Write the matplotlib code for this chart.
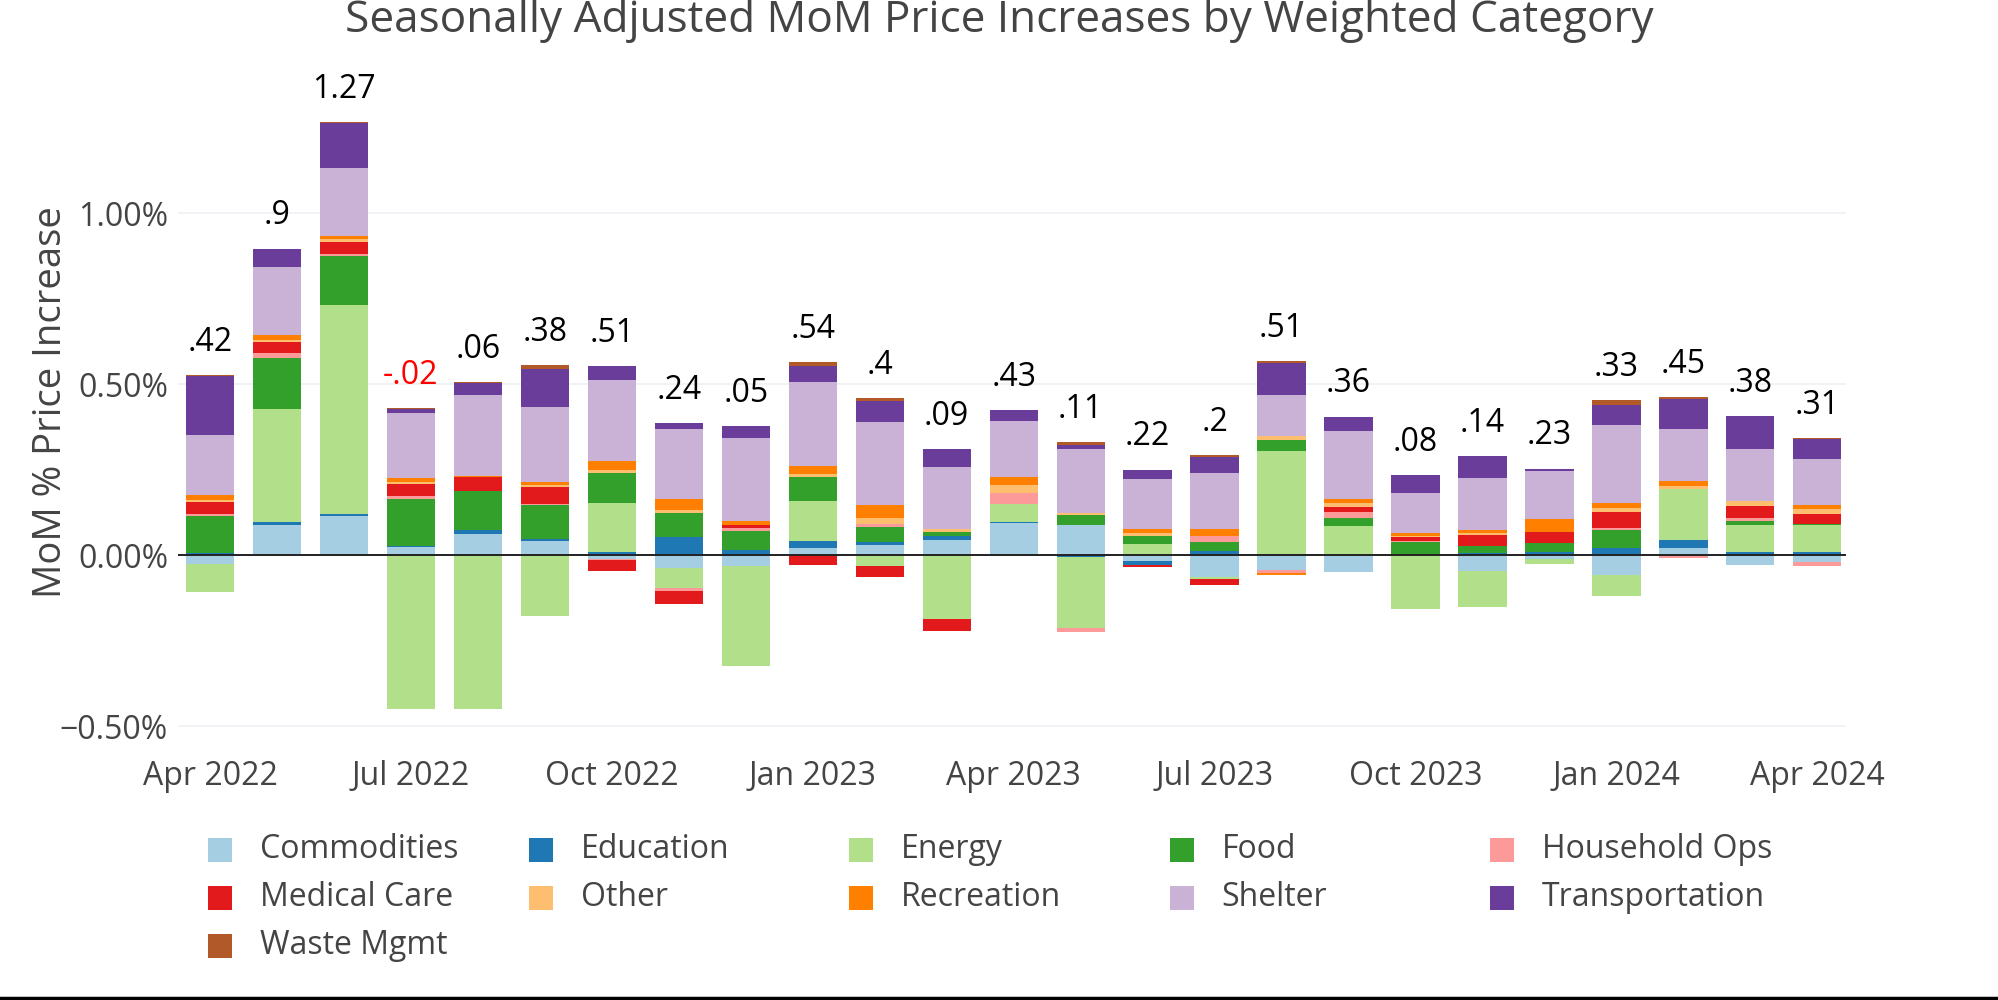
import numpy as np
import matplotlib
matplotlib.use("Agg")
import matplotlib.pyplot as plt
from matplotlib.patches import Rectangle
from matplotlib.lines import Line2D

plt.rcParams['font.family'] = ['Open Sans', 'DejaVu Sans']

# months Apr 2022 .. Apr 2024
months = ['Apr 2022', 'May 2022', 'Jun 2022', 'Jul 2022', 'Aug 2022', 'Sep 2022',
          'Oct 2022', 'Nov 2022', 'Dec 2022', 'Jan 2023', 'Feb 2023', 'Mar 2023',
          'Apr 2023', 'May 2023', 'Jun 2023', 'Jul 2023', 'Aug 2023', 'Sep 2023',
          'Oct 2023', 'Nov 2023', 'Dec 2023', 'Jan 2024', 'Feb 2024', 'Mar 2024',
          'Apr 2024']
tick_labels = ['Apr 2022', 'Jul 2022', 'Oct 2022', 'Jan 2023', 'Apr 2023',
               'Jul 2023', 'Oct 2023', 'Jan 2024', 'Apr 2024']

# weighted MoM contribution (%) per category
commodities = [-0.025, 0.088, 0.113, 0.024, 0.061, 0.040, -0.012, -0.039, -0.032, 0.021,
               0.029, 0.043, 0.095, 0.087, -0.017, -0.065, -0.043, -0.049, 0.0, -0.046,
               -0.011, -0.059, 0.021, -0.029, -0.019]
education = [0.007, 0.008, 0.007, 0.002, 0.013, 0.007, 0.008, 0.052, 0.014, 0.021,
             0.009, 0.012, 0.003, -0.005, -0.012, 0.012, 0.004, 0.0, 0.0, 0.005,
             0.010, 0.021, 0.022, 0.010, 0.010]
energy = [-0.083, 0.331, 0.611, -0.450, -0.450, -0.177, 0.143, -0.058, -0.293, 0.115,
          -0.032, -0.188, 0.051, -0.207, 0.033, -0.005, 0.301, 0.084, -0.157, -0.106,
          -0.016, -0.060, 0.151, 0.077, 0.077]
food = [0.106, 0.149, 0.143, 0.139, 0.113, 0.099, 0.089, 0.070, 0.055, 0.072,
        0.044, 0.013, -0.002, 0.029, 0.022, 0.026, 0.032, 0.024, 0.038, 0.021,
        0.026, 0.051, 0.0, 0.012, 0.004]
household_ops = [0.007, 0.016, 0.005, 0.007, 0.0, 0.003, -0.002, -0.007, 0.009, 0.0,
                 0.010, 0.0, 0.031, -0.012, 0.0, 0.017, -0.010, 0.017, 0.003, 0.0,
                 0.0, 0.007, -0.008, 0.010, -0.012]
medical_care = [0.035, 0.031, 0.037, 0.035, 0.042, 0.050, -0.032, -0.038, 0.009, -0.029,
                -0.031, -0.034, 0.0, 0.0, -0.006, -0.019, 0.0, 0.016, 0.012, 0.032,
                0.032, 0.046, -0.002, 0.034, 0.030]
other = [0.007, 0.007, 0.007, 0.007, 0.0, 0.007, 0.010, 0.010, 0.0, 0.008,
         0.016, 0.007, 0.024, 0.007, 0.010, 0.0, 0.012, 0.010, 0.002, 0.007,
         0.0, 0.014, 0.007, 0.016, 0.014]
recreation = [0.014, 0.014, 0.010, 0.010, 0.002, 0.007, 0.026, 0.031, 0.012, 0.024,
              0.037, 0.0, 0.024, 0.0, 0.012, 0.021, -0.004, 0.014, 0.008, 0.007,
              0.038, 0.012, 0.015, 0.0, 0.012]
shelter = [0.174, 0.198, 0.198, 0.192, 0.238, 0.219, 0.237, 0.207, 0.243, 0.245,
           0.245, 0.181, 0.165, 0.186, 0.144, 0.163, 0.120, 0.197, 0.117, 0.154,
           0.140, 0.228, 0.153, 0.150, 0.135]
transportation = [0.173, 0.052, 0.132, 0.011, 0.035, 0.113, 0.040, 0.015, 0.036, 0.048,
                  0.061, 0.053, 0.032, 0.014, 0.029, 0.049, 0.094, 0.043, 0.053, 0.063,
                  0.007, 0.059, 0.088, 0.098, 0.056]
waste_mgmt = [0.003, 0.002, 0.004, 0.002, 0.003, 0.010, 0.0, 0.0, 0.0, 0.010,
              0.007, 0.0, 0.0, 0.007, 0.0, 0.004, 0.004, 0.0, 0.0, 0.0,
              0.0, 0.014, 0.004, 0.0, 0.005]

# reported headline MoM total (%)
totals = [0.42, 0.9, 1.27, -0.02, 0.06, 0.38, 0.51, 0.24, 0.05, 0.54, 0.4, 0.09, 0.43,
          0.11, 0.22, 0.2, 0.51, 0.36, 0.08, 0.14, 0.23, 0.33, 0.45, 0.38, 0.31]

categories = ['Commodities', 'Education', 'Energy', 'Food', 'Household Ops',
              'Medical Care', 'Other', 'Recreation', 'Shelter', 'Transportation',
              'Waste Mgmt']
series = [commodities, education, energy, food, household_ops, medical_care,
          other, recreation, shelter, transportation, waste_mgmt]
colors = ['#a6cee3', '#1f78b4', '#b2df8a', '#33a02c', '#fb9a99', '#e31a1c',
          '#fdbf6f', '#ff7f00', '#cab2d6', '#6a3d9a', '#b15928']

TXT = '#444444'
FS = 23

fig = plt.figure(figsize=(19.98, 10), dpi=100)
ax = fig.add_axes([0.089, 0.262, 0.835, 0.646])

x = np.arange(len(months))
pos_base = np.zeros(len(months))
neg_base = np.zeros(len(months))
for name, vals, col in zip(categories, series, colors):
    v = np.array(vals)
    bottom = np.where(v >= 0, pos_base, neg_base)
    ax.bar(x, v, bottom=bottom, width=0.72, color=col, linewidth=0, label=name, zorder=3)
    pos_base += np.where(v >= 0, v, 0)
    neg_base += np.where(v < 0, v, 0)

# total labels above the positive stack
for xi, top, t in zip(x, pos_base, totals):
    s = '{:g}'.format(t).replace('0.', '.')
    ax.annotate(s, (xi, top), xytext=(0, 23.5), textcoords='offset points',
                ha='center', va='center', fontsize=FS,
                color='red' if t < 0 else 'black', zorder=4)

ax.set_xlim(-0.48, 24.43)
ax.set_ylim(-0.535, 1.354)
ax.set_yticks([-0.5, 0, 0.5, 1.0])
ax.set_yticklabels(['\u22120.50%', '0.00%', '0.50%', '1.00%'])
ax.set_xticks(x[::3])
ax.set_xticklabels(tick_labels)
ax.tick_params(axis='both', length=0, labelsize=FS, labelcolor=TXT)
ax.tick_params(axis='y', pad=7)
ax.tick_params(axis='x', pad=16)
ax.grid(axis='y', color='#eef0f4', linewidth=1.2, zorder=0)
ax.axhline(0, color='#222222', linewidth=1.4, zorder=5)
for sp in ax.spines.values():
    sp.set_visible(False)

fig.text(0.0255, 0.598, 'MoM % Price Increase', rotation=90, ha='center', va='center',
         fontsize=27.5, color=TXT)
fig.text(0.5, 0.968, 'Seasonally Adjusted MoM Price Increases by Weighted Category',
         ha='center', va='baseline', fontsize=31.8, color=TXT)

# legend, 5 columns as in the original layout
for i, (name, col) in enumerate(zip(categories, colors)):
    r, c = divmod(i, 5)
    cx = (208 + 320.5 * c) / 1998
    cy = 1 - (849.5 + 48 * r) / 1000
    fig.add_artist(Rectangle((cx, cy - 0.012), 24 / 1998, 0.024,
                             transform=fig.transFigure, color=col, linewidth=0))
    fig.text(cx + 52 / 1998, cy, name, ha='left', va='center', fontsize=FS, color=TXT)

fig.add_artist(Line2D([0, 1], [0.002, 0.002], transform=fig.transFigure,
                      color='black', linewidth=2.5))

fig.savefig('out.png', dpi=100, facecolor='white')
